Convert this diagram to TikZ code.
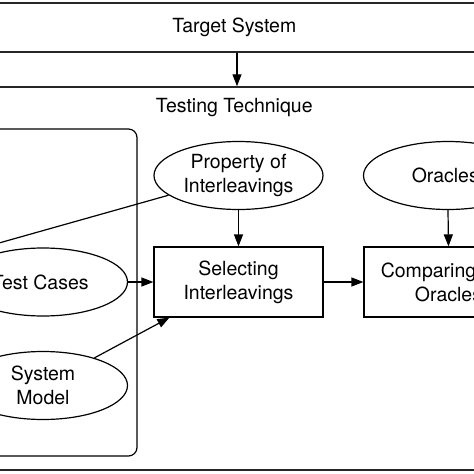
\documentclass[tikz,border=0pt]{standalone}
\usepackage{fontspec}
\setmainfont{TeX Gyre Heros}
\usepackage{tikz}
\usetikzlibrary{arrows.meta,positioning,shapes.geometric}

\tikzset{
  layer node/.style={
    rectangle,
    draw=black!85,
    line width=1.5pt,
    minimum width=640pt,
    inner sep=0pt,
    align=center,
    font=\fontsize{19.5}{23}\selectfont
  }
}
\tikzset{
  title node/.style={
    inner sep=0pt,
    align=center,
    font=\fontsize{19.5}{23}\selectfont
  }
}
\tikzset{
  group node/.style={
    rectangle,
    rounded corners=3mm,
    draw=black,
    line width=1.2pt,
    inner sep=0pt
  }
}
\tikzset{
  source node/.style={
    ellipse,
    draw=black,
    line width=1.2pt,
    minimum width=169pt,
    minimum height=68pt,
    inner sep=0pt,
    align=center,
    font=\fontsize{19.5}{24}\selectfont
  }
}
\tikzset{
  process node/.style={
    rectangle,
    draw=black,
    line width=1.2pt,
    minimum width=169pt,
    minimum height=70pt,
    inner sep=0pt,
    align=center,
    font=\fontsize{19.5}{24}\selectfont
  }
}
\tikzset{
  relation/.style={
    -{Triangle[length=12pt,width=9pt]},
    draw=black,
    line width=1.2pt
  }
}

\begin{document}
\begin{tikzpicture}[x=1pt,y=-1pt]

    \useasboundingbox (0,0) rectangle (474,474);
    \clip (0,0) rectangle (474,474);
    \fill[white] (0,0) rectangle (474,474);

    % ------------------------------------------------------------
    % Layers
    % ------------------------------------------------------------

    \node[layer node, minimum height=49pt] (target) at (237,27.5)
    {
      Target System
    };

    \node[layer node, minimum height=383pt] (technique) at (237,278.5) {};

    \node[title node, below=12pt of technique.north] (techtitle)
    {
      Testing Technique
    };

    % Inputs group, cut off at the left
    \node[group node, minimum width=237pt, minimum height=327pt] (inputs)
      at (18.5,292.5) {};

    % ------------------------------------------------------------
    % Nodes
    % ------------------------------------------------------------

    \node[source node] (property) at (238.5,175.5)
    {
      Property of\\
      Interleavings
    };

    \node[source node] (oracles) at (448,175.5)
    {
      Oracles
    };

    \node[source node] (testcases) at (43,282)
    {
      Test Cases
    };

    \node[source node] (sysmodel) at (43,385.5)
    {
      System\\
      Model
    };

    \node[process node] (selecting) at (238.5,282)
    {
      Selecting\\
      Interleavings
    };

    \node[process node] (comparing) at (448.5,282)
    {
      Comparing with\\
      Oracles
    };

    \coordinate (offleft) at (-40,254);

    % ------------------------------------------------------------
    % Relations
    % ------------------------------------------------------------

    \draw[relation]
      (target.south)
      --
      (technique.north);

    \draw[relation]
      (property.south)
      --
      (selecting.north);

    \draw[relation]
      (oracles.south)
      --
      (comparing.north);

    \draw[relation]
      (testcases.east)
      --
      (selecting.west);

    \draw[relation]
      (sysmodel)
      --
      ([xshift=16pt]selecting.south west);

    \draw[relation]
      (selecting.east)
      --
      (comparing.west);

    % Continues past the left edge
    \draw[line width=1.2pt]
      (property)
      --
      (offleft);

\end{tikzpicture}
\end{document}
